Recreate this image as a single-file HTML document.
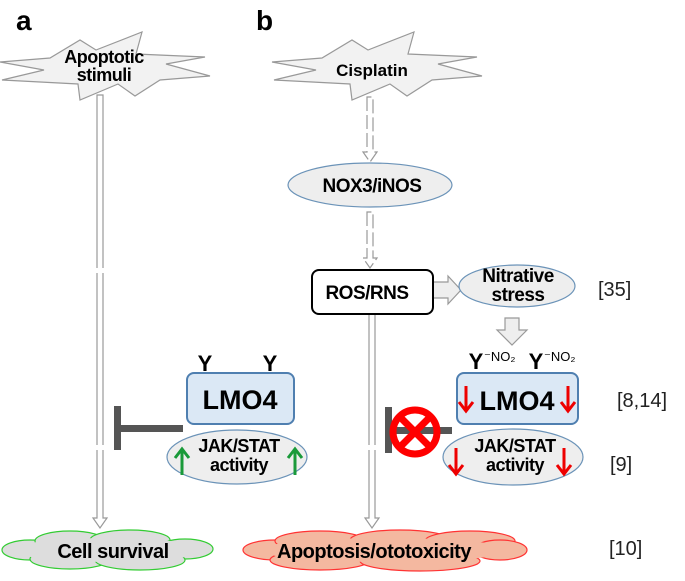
<!DOCTYPE html>
<html><head><meta charset="utf-8"><style>
body{margin:0;background:#fff}
svg text{font-family:"Liberation Sans",sans-serif}
.b{font-weight:bold}
</style></head><body>
<svg width="685" height="576" viewBox="0 0 685 576" xmlns="http://www.w3.org/2000/svg">
<defs>
<g id="star"><polygon points="0,62 50,58 80,40 96,50 142,32 136,54 205,57 166,64 210,76 160,80 135,96 118,84 80,100 78,84 2,80 44,70" fill="#f2f2f2" stroke="#999" stroke-width="1.2"/></g>
</defs>
<text x="16" y="30" font-size="28" class="b">a</text>
<text x="256" y="30" font-size="28" class="b">b</text>
<use href="#star"/>
<use href="#star" transform="translate(272,0)"/>
<text x="104" y="63" font-size="18" class="b" text-anchor="middle" letter-spacing="-0.5">Apoptotic</text>
<text x="104" y="81" font-size="18" class="b" text-anchor="middle" letter-spacing="-0.5">stimuli</text>
<text x="372" y="76" font-size="17" class="b" text-anchor="middle">Cisplatin</text>

<g fill="#fff" stroke="#999" stroke-width="1.2">
<path d="M97,95 V518 H93 L100,528 L107,518 H103 V95 Z"/>
<path d="M369,312 V518 H365 L372,528 L379,518 H375 V312 Z"/>
<path d="M367,97 V152 H363 L370,162 L377,152 H373 V97 Z" stroke-dasharray="14,4"/>
<path d="M367,212 V258 H363 L370,268 L377,258 H373 V212 Z" stroke-dasharray="14,4"/>
<path d="M433,282 H448 V276 L461,290 L448,304 V298 H433 Z" fill="#eee"/>
<path d="M505,318 V330 H497 L512,345 L527,330 H519 V318 Z" fill="#eee"/>
</g>
<rect x="94" y="268" width="12" height="5" fill="#fff"/>
<rect x="94" y="445" width="12" height="5" fill="#fff"/>
<rect x="366" y="445" width="12" height="5" fill="#fff"/>

<ellipse cx="370" cy="185" rx="82" ry="22" fill="#eee" stroke="#6b93b8" stroke-width="1.2"/>
<text x="372" y="192" font-size="19" class="b" text-anchor="middle" letter-spacing="-0.5">NOX3/iNOS</text>
<rect x="312" y="270" width="121" height="44" rx="7" fill="#fff" stroke="#000" stroke-width="2"/>
<text x="367" y="299" font-size="19" class="b" text-anchor="middle" letter-spacing="-0.5">ROS/RNS</text>
<ellipse cx="517" cy="286" rx="58" ry="21" fill="#eee" stroke="#6b93b8" stroke-width="1.2"/>
<text x="518" y="282" font-size="19" class="b" text-anchor="middle" letter-spacing="-0.5">Nitrative</text>
<text x="518" y="301" font-size="19" class="b" text-anchor="middle" letter-spacing="-0.5">stress</text>

<text x="205" y="371" font-size="22" class="b" text-anchor="middle">Y</text>
<text x="270" y="371" font-size="22" class="b" text-anchor="middle">Y</text>
<rect x="187" y="373" width="107" height="51" rx="7" fill="#dbe8f5" stroke="#4f7fb0" stroke-width="2"/>
<text x="240" y="409" font-size="27" class="b" text-anchor="middle">LMO4</text>
<ellipse cx="237" cy="457" rx="70" ry="27" fill="#eee" stroke="#6b93b8" stroke-width="1.2"/>
<text x="239" y="452" font-size="18" class="b" text-anchor="middle" letter-spacing="-0.5">JAK/STAT</text>
<text x="239" y="471" font-size="18" class="b" text-anchor="middle" letter-spacing="-0.5">activity</text>
<g stroke="#1a9a3a" stroke-width="3" fill="none"><path d="M182,475 V450 M175,458 L182,449 L189,458"/><path d="M295,475 V450 M288,458 L295,449 L302,458"/></g>
<g fill="#555"><rect x="114" y="406" width="7" height="44"/><rect x="118" y="425" width="65" height="7"/></g>

<text x="476" y="369" font-size="22" class="b" text-anchor="middle">Y</text><text x="484" y="361" font-size="13">⁻NO₂</text>
<text x="536" y="369" font-size="22" class="b" text-anchor="middle">Y</text><text x="544" y="361" font-size="13">⁻NO₂</text>
<rect x="457" y="373" width="121" height="51" rx="7" fill="#dbe8f5" stroke="#4f7fb0" stroke-width="2"/>
<text x="517" y="410" font-size="27" class="b" text-anchor="middle">LMO4</text>
<ellipse cx="513" cy="457" rx="70" ry="28" fill="#eee" stroke="#6b93b8" stroke-width="1.2"/>
<text x="515" y="452" font-size="18" class="b" text-anchor="middle" letter-spacing="-0.5">JAK/STAT</text>
<text x="515" y="471" font-size="18" class="b" text-anchor="middle" letter-spacing="-0.5">activity</text>
<g stroke="#e00" stroke-width="3" fill="none">
<path d="M466,386 V410 M459,402 L466,411 L473,402"/><path d="M568,386 V410 M561,402 L568,411 L575,402"/>
<path d="M456,448 V473 M449,465 L456,474 L463,465"/><path d="M564,448 V473 M557,465 L564,474 L571,465"/>
</g>
<g fill="#555"><rect x="385" y="407" width="7" height="46"/><rect x="389" y="427" width="63" height="7"/></g>
<circle cx="415" cy="432" r="22" fill="none" stroke="#f00" stroke-width="7"/>
<g stroke="#f00" stroke-width="7"><line x1="401" y1="418" x2="429" y2="446"/><line x1="429" y1="418" x2="401" y2="446"/></g>

<g fill="#ddd" stroke="#3c3" stroke-width="1.2">
<ellipse cx="30" cy="550" rx="28" ry="10"/><ellipse cx="70" cy="541" rx="35" ry="10"/><ellipse cx="130" cy="540" rx="40" ry="10"/><ellipse cx="185" cy="549" rx="28" ry="10"/><ellipse cx="70" cy="559" rx="40" ry="10"/><ellipse cx="140" cy="560" rx="45" ry="10"/>
</g>
<ellipse cx="108" cy="550" rx="95" ry="12" fill="#ddd"/>
<text x="113" y="558" font-size="20" class="b" text-anchor="middle" letter-spacing="-0.5">Cell survival</text>
<g fill="#f4b8a0" stroke="#f33" stroke-width="1.2">
<ellipse cx="275" cy="550" rx="32" ry="10"/><ellipse cx="320" cy="541" rx="45" ry="10"/><ellipse cx="400" cy="540" rx="50" ry="10"/><ellipse cx="470" cy="541" rx="45" ry="10"/><ellipse cx="500" cy="550" rx="27" ry="10"/><ellipse cx="320" cy="560" rx="50" ry="10"/><ellipse cx="420" cy="561" rx="60" ry="10"/>
</g>
<ellipse cx="385" cy="550" rx="125" ry="12" fill="#f4b8a0"/>
<text x="374" y="558" font-size="20" class="b" text-anchor="middle" letter-spacing="-0.5">Apoptosis/ototoxicity</text>

<g font-size="20" fill="#222">
<text x="598" y="296">[35]</text>
<text x="617" y="407">[8,14]</text>
<text x="610" y="471">[9]</text>
<text x="609" y="555">[10]</text>
</g>
</svg>
</body></html>
